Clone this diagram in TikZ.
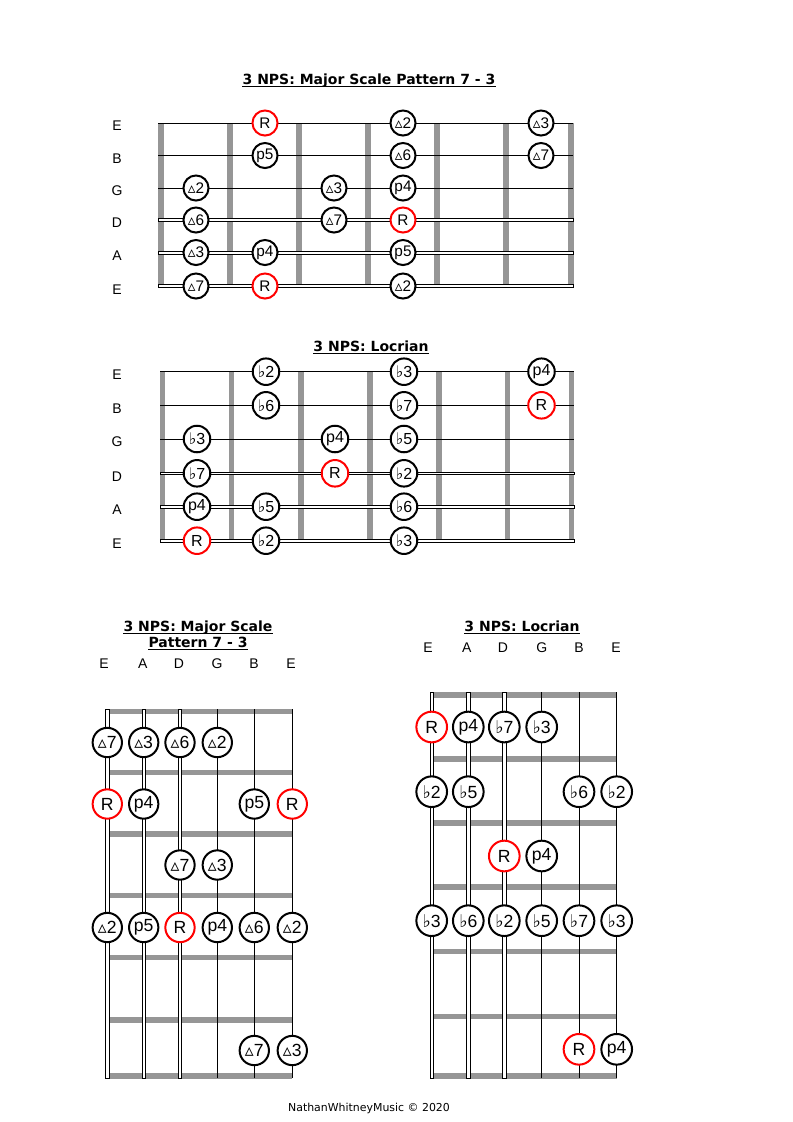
\documentclass[tikz,border=0pt]{standalone}
\usepackage{fontspec}
\setmainfont{Liberation Sans}
\newfontfamily\dv{DejaVu Sans}
\newcommand\mytri{{\dv ▵}}
\newcommand\myflat{{\dv ♭}}
\definecolor{fretgray}{RGB}{150,150,150}
\tikzset{
  fretbar/.style={line width=3.8pt, draw=fretgray},
  sstr/.style={line width=0.75pt, draw=black},
  dstr/.style={line width=0.6pt, draw=black, fill=white},
  basenote/.style={circle, draw=black, line width=1.5pt, fill=white, inner sep=0pt},
  lab/.style={inner sep=0pt, font=\fontsize{10.5}{12}\selectfont},
  ttl/.style={inner sep=0pt, anchor=base, font=\dv\bfseries\fontsize{10.5}{12}\selectfont},
  ul/.style={line width=0.8pt},
  foot/.style={inner sep=0pt, font=\dv\fontsize{8.2}{10}\selectfont}
}
\begin{document}
\begin{tikzpicture}[x=0.75pt,y=-0.75pt]
\useasboundingbox (0,0) rectangle (793,1122);
\fill[white] (0,0) rectangle (793,1122);

% ---------- titles ----------
\node[ttl] (t1) at (369,84.5) {3 NPS: Major Scale Pattern 7 - 3};
\draw[ul] ([yshift=-1.6pt]t1.base west) -- ([yshift=-1.6pt]t1.base east);
\node[ttl] (t2) at (371,351) {3 NPS: Locrian};
\draw[ul] ([yshift=-1.6pt]t2.base west) -- ([yshift=-1.6pt]t2.base east);
\node[ttl] (t3a) at (198,631) {3 NPS: Major Scale};
\draw[ul] ([yshift=-1.6pt]t3a.base west) -- ([yshift=-1.6pt]t3a.base east);
\node[ttl] (t3b) at (198,647) {Pattern 7 - 3};
\draw[ul] ([yshift=-1.6pt]t3b.base west) -- ([yshift=-1.6pt]t3b.base east);
\node[ttl] (t4) at (522,631) {3 NPS: Locrian};
\draw[ul] ([yshift=-1.6pt]t4.base west) -- ([yshift=-1.6pt]t4.base east);

% ---------- fretboard 1 ----------
\foreach \y/\t [count=\i] in {126/E,158.3/B,191/G,223/D,255.5/A,289.4/E}
  \node[lab] (la\i) at (117,\y) {\t};
\foreach \x in {161,230,299,368,437,506,571}
  \draw[fretbar] (\x,123) -- (\x,286);
\foreach \y in {123,155.5,188}
  \draw[sstr] (158,\y) -- (573,\y);
\foreach \y in {220,252.5,286}
  \draw[dstr] (158,\y-1.4) rectangle (573,\y+1.4);
\begin{scope}[nt/.style={basenote, minimum size=18.8pt, font=\fontsize{11.5}{13}\selectfont}, rt/.style={nt, draw=red}]
\foreach \x/\y/\t/\c [count=\i] in {
 265/123/R/rt, 403/123/\mytri2/nt, 541/123/\mytri3/nt,
 265/155.5/p5/nt, 403/155.5/\mytri6/nt, 541/155.5/\mytri7/nt,
 196/188/\mytri2/nt, 334/188/\mytri3/nt, 403/188/p4/nt,
 196/220/\mytri6/nt, 334/220/\mytri7/nt, 403/220/R/rt,
 196/252.5/\mytri3/nt, 265/252.5/p4/nt, 403/252.5/p5/nt,
 196/286/\mytri7/nt, 265/286/R/rt, 403/286/\mytri2/nt}
  \node[\c] (na\i) at (\x,\y) {\t};
\end{scope}

% ---------- fretboard 2 ----------
\foreach \y/\t [count=\i] in {374.3/E,408.3/B,442/G,476.7/D,510/A,544/E}
  \node[lab] (lb\i) at (117,\y) {\t};
\foreach \x in {162.7,231.7,301,370,439,507.3,571.7}
  \draw[fretbar] (\x,371.7) -- (\x,540.7);
\foreach \y in {371.7,405.3,439}
  \draw[sstr] (160,\y) -- (574,\y);
\foreach \y in {473.3,506.7,540.7}
  \draw[dstr] (160,\y-1.4) rectangle (574,\y+1.4);
\begin{scope}[nt/.style={basenote, minimum size=19.9pt, font=\fontsize{12}{13}\selectfont}, rt/.style={nt, draw=red}]
\foreach \x/\y/\t/\c [count=\i] in {
 266/371.7/\myflat2/nt, 404/371.7/\myflat3/nt, 541.5/371.7/p4/nt,
 266/405.3/\myflat6/nt, 404/405.3/\myflat7/nt, 541.5/405.3/R/rt,
 197/439/\myflat3/nt, 335/439/p4/nt, 404/439/\myflat5/nt,
 197/473.3/\myflat7/nt, 335/473.3/R/rt, 404/473.3/\myflat2/nt,
 197/506.7/p4/nt, 266/506.7/\myflat5/nt, 404/506.7/\myflat6/nt,
 197/540.7/R/rt, 266/540.7/\myflat2/nt, 404/540.7/\myflat3/nt}
  \node[\c] (nb\i) at (\x,\y) {\t};
\end{scope}

% ---------- fretboard 3 (vertical, left) ----------
\foreach \x/\t [count=\i] in {104/E,142.7/A,179/D,217/G,254/B,291/E}
  \node[lab] (lc\i) at (\x,663.7) {\t};
\foreach \y in {711.7,772.7,834,895.7,957.7,1020,1076}
  \draw[fretbar] (109,\y) -- (292.3,\y);
\foreach \x in {217.3,254.3,292.3}
  \draw[sstr] (\x,709) -- (\x,1078);
\foreach \x in {107.3,143.7,180}
  \draw[dstr] (\x-1.6,709) rectangle (\x+1.6,1078);
\begin{scope}[nt/.style={basenote, minimum size=22pt, font=\fontsize{13.2}{15}\selectfont}, rt/.style={nt, draw=red}]
\foreach \x/\y/\t/\c [count=\i] in {
 107.3/742.5/\mytri7/nt, 143.7/742.5/\mytri3/nt, 180/742.5/\mytri6/nt, 217.3/742.5/\mytri2/nt,
 107.3/804/R/rt, 143.7/804/p4/nt, 254.3/804/p5/nt, 292.3/804/R/rt,
 180/865/\mytri7/nt, 217.3/865/\mytri3/nt,
 107.3/927.5/\mytri2/nt, 143.7/927.5/p5/nt, 180/927.5/R/rt, 217.3/927.5/p4/nt, 254.3/927.5/\mytri6/nt, 292.3/927.5/\mytri2/nt,
 254.3/1050.5/\mytri7/nt, 292.3/1050.5/\mytri3/nt}
  \node[\c] (nc\i) at (\x,\y) {\t};
\end{scope}

% ---------- fretboard 4 (vertical, right) ----------
\foreach \x/\t [count=\i] in {428/E,466.7/A,503/D,541.7/G,579/B,616/E}
  \node[lab] (ld\i) at (\x,647.2) {\t};
\foreach \y in {695,759,823,887,951.7,1016.7,1076}
  \draw[fretbar] (433,\y) -- (616.7,\y);
\foreach \x in {541.7,579,616.7}
  \draw[sstr] (\x,692) -- (\x,1078);
\foreach \x in {431.7,468.3,504.3}
  \draw[dstr] (\x-1.6,692) rectangle (\x+1.6,1078);
\begin{scope}[nt/.style={basenote, minimum size=23pt, font=\fontsize{13.2}{15}\selectfont}, rt/.style={nt, draw=red}]
\foreach \x/\y/\t/\c [count=\i] in {
 431.7/727/R/rt, 468.3/727/p4/nt, 504.3/727/\myflat7/nt, 541.7/727/\myflat3/nt,
 431.7/791.7/\myflat2/nt, 468.3/791.7/\myflat5/nt, 579/791.7/\myflat6/nt, 616.7/791.7/\myflat2/nt,
 504.3/856/R/rt, 541.7/856/p4/nt,
 431.7/920.7/\myflat3/nt, 468.3/920.7/\myflat6/nt, 504.3/920.7/\myflat2/nt, 541.7/920.7/\myflat5/nt, 579/920.7/\myflat7/nt, 616.7/920.7/\myflat3/nt,
 579/1049.3/R/rt, 616.7/1049.3/p4/nt}
  \node[\c] (nd\i) at (\x,\y) {\t};
\end{scope}

% ---------- footer ----------
\node[foot] (ft) at (369,1108.5) {NathanWhitneyMusic © 2020};
\end{tikzpicture}
\end{document}
